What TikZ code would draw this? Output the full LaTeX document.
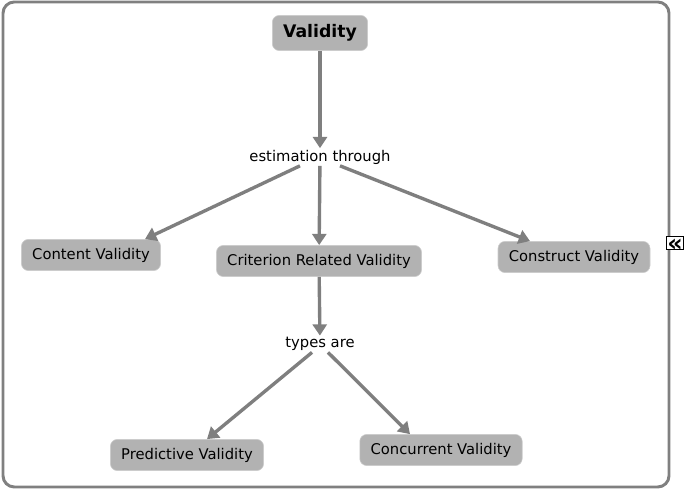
\documentclass[tikz,border=0pt]{standalone}
\usepackage{fontspec}
\setmainfont{DejaVu Sans}
\usepackage{tikz}
\usetikzlibrary{positioning,arrows.meta}
\definecolor{boxgray}{HTML}{B2B2B2}
\definecolor{linkgray}{HTML}{7F7F7F}
\definecolor{framegray}{HTML}{808080}

\begin{document}
\begin{tikzpicture}[
  >={Triangle[width=10pt,length=8pt]},
  concept/.style={rectangle,rounded corners=5pt,fill=boxgray,draw=gray!40,
    minimum height=0.78cm,inner xsep=0.27cm,font=\fontsize{10.5}{12}\selectfont},
  link/.style={font=\fontsize{10.5}{12}\selectfont,inner sep=1pt},
  arc/.style={->,draw=linkgray,line width=2.4pt}
]
\useasboundingbox (0,0) rectangle (17.125,12.275);
% outer frame
\draw[framegray,line width=2.1pt,rounded corners=8pt] (0.075,0.1) rectangle (16.725,12.225);
\node[draw=black,fill=white,line width=0.9pt,inner sep=0pt,minimum width=0.43cm,minimum height=0.33cm,
  text height=0.24cm,text depth=0pt,font=\bfseries\fontsize{17}{17}\selectfont] (icon) at (16.875,6.2)
  {\raisebox{-0.09cm}{«}};
% concepts
\node[concept,font=\bfseries\fontsize{12.3}{14}\selectfont,minimum height=0.88cm] (val) at (8.0,11.45) {Validity};
\node[link] (est) at (8.0,8.35) {estimation through};
\node[concept] (content) at (2.275,5.9) {Content Validity};
\node[concept] (crit) at (7.975,5.75) {Criterion Related Validity};
\node[concept] (constr) at (14.35,5.85) {Construct Validity};
\node[link] (types) at (8.0,3.675) {types are};
\node[concept] (pred) at (4.675,0.9) {Predictive Validity};
\node[concept] (conc) at (11.025,1.025) {Concurrent Validity};
% links
\draw[arc] (val) -- (est);
\draw[arc] ([xshift=-0.5cm]est.south) -- ([xshift=1.35cm]content.north);
\draw[arc] (est) -- (crit);
\draw[arc] ([xshift=0.5cm]est.south) -- ([xshift=-1.1cm]constr.north);
\draw[arc] (crit) -- (types);
\draw[arc] ([xshift=-0.2cm]types.south) -- ([xshift=0.5cm]pred.north);
\draw[arc] ([xshift=0.2cm]types.south) -- ([xshift=-0.775cm]conc.north);
\end{tikzpicture}
\end{document}
